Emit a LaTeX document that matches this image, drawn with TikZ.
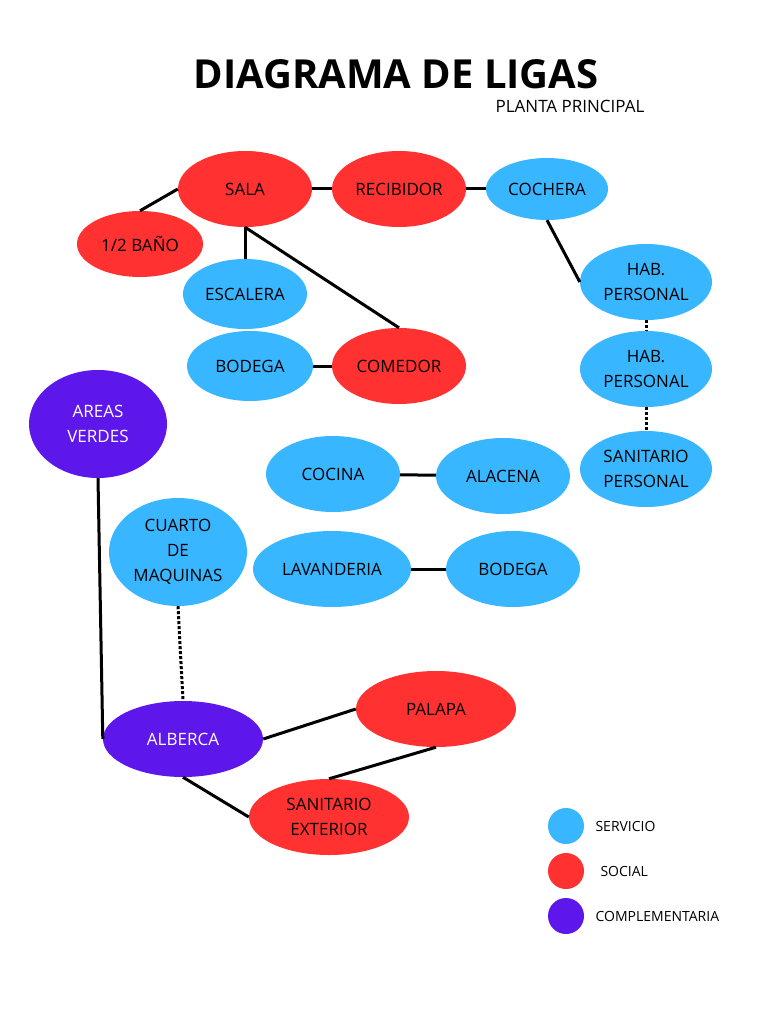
\documentclass[tikz,border=0pt]{standalone}
\usepackage{fontspec}
\setmainfont{Open Sans}
\usetikzlibrary{shapes.geometric}
\definecolor{cred}{HTML}{FF3131}
\definecolor{cblue}{HTML}{38B6FF}
\definecolor{cpurp}{HTML}{5E17EB}
\begin{document}
\begin{tikzpicture}[x=1pt,y=-1pt,
  el/.style={ellipse,inner sep=0pt,align=center,font=\fontsize{17}{25}\selectfont},
  red/.style={el,fill=cred},
  blue/.style={el,fill=cblue},
  purp/.style={el,fill=cpurp,text=white},
  ln/.style={line width=3pt,black},
  dl/.style={line width=3pt,black,dotted}]
\useasboundingbox[fill=white] (0,0) rectangle (768,1024);
\node[font=\fontsize{40}{44}\bfseries\selectfont] (title) at (396,74) {DIAGRAMA DE LIGAS};
\node[font=\fontsize{17}{20}\selectfont] (sub) at (570,106) {PLANTA PRINCIPAL};
\node[red,minimum width=134pt,minimum height=76pt] (sala) at (245,189) {SALA};
\node[red,minimum width=134pt,minimum height=76pt] (rec) at (399,189) {RECIBIDOR};
\node[blue,minimum width=122pt,minimum height=62pt] (coch) at (547,189) {COCHERA};
\node[red,minimum width=126pt,minimum height=66pt] (bano) at (140,244) {1/2 BAÑO};
\node[blue,minimum width=124pt,minimum height=70pt] (esc) at (245,294) {ESCALERA};
\node[blue,minimum width=126pt,minimum height=70pt] (bod) at (250,366) {BODEGA};
\node[red,minimum width=134pt,minimum height=76pt] (com) at (399,366) {COMEDOR};
\node[blue,minimum width=132pt,minimum height=76pt] (hab1) at (646,282) {HAB.\\PERSONAL};
\node[blue,minimum width=132pt,minimum height=76pt] (hab2) at (646,369) {HAB.\\PERSONAL};
\node[blue,minimum width=132pt,minimum height=76pt] (sanp) at (646,469) {SANITARIO\\PERSONAL};
\node[purp,minimum width=138pt,minimum height=108pt] (av) at (98,424) {AREAS\\VERDES};
\node[blue,minimum width=134pt,minimum height=76pt] (coc) at (333,474) {COCINA};
\node[blue,minimum width=134pt,minimum height=76pt] (ala) at (503,476) {ALACENA};
\node[blue,minimum width=138pt,minimum height=108pt] (cm) at (178,552) {CUARTO\\DE\\MAQUINAS};
\node[blue,minimum width=158pt,minimum height=76pt] (lav) at (332,569) {LAVANDERIA};
\node[blue,minimum width=134pt,minimum height=76pt] (bod2) at (513,569) {BODEGA};
\node[red,minimum width=160pt,minimum height=76pt] (pal) at (436,709) {PALAPA};
\node[purp,minimum width=160pt,minimum height=76pt] (alb) at (183,739) {ALBERCA};
\node[red,minimum width=160pt,minimum height=76pt] (sanx) at (329,817) {SANITARIO\\EXTERIOR};
\node[circle,fill=cblue,minimum size=36pt] (l1) at (566,826) {};
\node[circle,fill=cred,minimum size=36pt] (l2) at (566,871) {};
\node[circle,fill=cpurp,minimum size=36pt] (l3) at (566,916) {};
\node[anchor=west,font=\fontsize{14}{16}\selectfont] (t1) at (592,826) {SERVICIO};
\node[anchor=west,font=\fontsize{14}{16}\selectfont] (t2) at (597,871) {SOCIAL};
\node[anchor=west,font=\fontsize{14}{16}\selectfont] (t3) at (592,916) {COMPLEMENTARIA};
\draw[ln] (bano.north) -- (sala.west);
\draw[ln] (sala) -- (rec);
\draw[ln] (rec) -- (coch);
\draw[ln] (sala.south) -- (esc.north);
\draw[ln] (sala.south) -- (com.north);
\draw[ln] (bod) -- (com);
\draw[ln] (coch.south) -- (hab1.west);
\draw[dl] (hab1.south) -- (hab2.north);
\draw[dl] (hab2.south) -- (sanp.north);
\draw[ln] (coc) -- (ala);
\draw[ln] (lav) -- (bod2);
\draw[dl] (cm.south) -- (alb.north);
\draw[ln] (av.south) -- (alb.west);
\draw[ln] (alb.east) -- (pal.west);
\draw[ln] (alb.south) -- (sanx.west);
\draw[ln] (pal.south) -- (sanx.north);
\end{tikzpicture}
\end{document}
